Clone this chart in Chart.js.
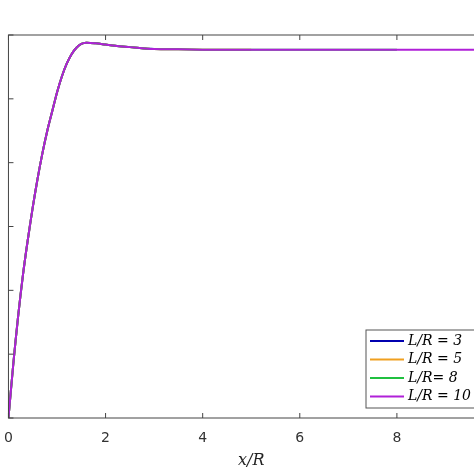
<!DOCTYPE html>
<html><head><meta charset="utf-8">
<script src="https://cdn.jsdelivr.net/npm/chart.js@4"></script>
<style>html,body{margin:0;overflow:hidden;background:#fff}#wrap{width:520px;height:474px}</style>
</head><body><div id="wrap"><canvas id="c"></canvas></div>
<script>
// courbe (x/R, valeur)
const xs = [0,0.1,0.2,0.3,0.4,0.5,0.6,0.7,0.8,0.9,1.0,1.1,1.2,1.3,1.4,1.5,1.6,1.8,2.0,2.2,2.5,2.8,3.0,3.5,4,5,6,7,8,9,10];
const ys = [0,0.85,1.6,2.25,2.8,3.3,3.75,4.15,4.5,4.8,5.1,5.35,5.55,5.7,5.8,5.86,5.88,5.87,5.85,5.83,5.81,5.79,5.78,5.775,5.77,5.77,5.77,5.77,5.77,5.77,5.77];
const labels = ['L/R = 3','L/R = 5','L/R= 8','L/R = 10'];
const ends = [3,5,8,10];
const colors = ['#0000b0','#f0a020','#20c040','#b020d8'];
const xTicks = [0,2,4,6,8,10];

// order : la derniere serie (violette) dessinee au dessus
const datasets = labels.map((l,i)=>({
  label:l, borderColor:colors[i], borderWidth:2, pointRadius:0, tension:0.3, order:labels.length-i,
  data: xs.filter(x=>x<=ends[i]).map((x,k)=>({x:x,y:ys[k]}))
}));

const cadre = {
  id:'cadre',
  afterDraw(chart){
    const {ctx, chartArea:a, scales} = chart;
    ctx.save();
    ctx.strokeStyle='#444'; ctx.lineWidth=1;
    ctx.strokeRect(a.left,a.top,a.right-a.left,a.bottom-a.top);
    ctx.beginPath();
    xTicks.forEach(v=>{const p=scales.x.getPixelForValue(v);
      ctx.moveTo(p,a.bottom);ctx.lineTo(p,a.bottom-5);ctx.moveTo(p,a.top);ctx.lineTo(p,a.top+5);});
    for(let v=0;v<=6;v++){const p=scales.y.getPixelForValue(v);
      ctx.moveTo(a.left,p);ctx.lineTo(a.left+5,p);}
    ctx.stroke();
    // legende dans le graphe
    const bx=366,by=330,bw=140,bh=78;
    ctx.fillStyle='#fff';ctx.fillRect(bx,by,bw,bh);ctx.strokeStyle='#555';ctx.strokeRect(bx,by,bw,bh);
    ctx.font='italic 14px "DejaVu Serif", serif';ctx.textBaseline='middle';
    chart.data.datasets.forEach((d,i)=>{
      const yy=by+11+i*18.5;
      ctx.strokeStyle=d.borderColor;ctx.lineWidth=2;
      ctx.beginPath();ctx.moveTo(bx+4,yy);ctx.lineTo(bx+38,yy);ctx.stroke();
      ctx.fillStyle='#000';ctx.fillText(d.label,bx+42,yy);
    });
    ctx.restore();
  }
};

new Chart(document.getElementById('c'),{
  type:'line',
  data:{datasets:datasets},
  options:{
    responsive:true, maintainAspectRatio:false, animation:false,
    layout:{padding:{left:4,top:35,right:26,bottom:4}},
    plugins:{legend:{display:false},tooltip:{enabled:false}},
    scales:{
      x:{type:'linear',min:0,max:10,
        afterBuildTicks(s){s.ticks=xTicks.map(v=>({value:v}));},
        grid:{display:false},border:{display:false},
        ticks:{color:'#333',font:{size:14,family:'DejaVu Sans'},padding:4},
        title:{display:true,text:'x/R',color:'#222',font:{size:16,style:'italic',family:'DejaVu Serif'},padding:{top:0,bottom:0}}},
      y:{display:false,min:0,max:6}
    }
  },
  plugins:[cadre]
});
</script></body></html>
